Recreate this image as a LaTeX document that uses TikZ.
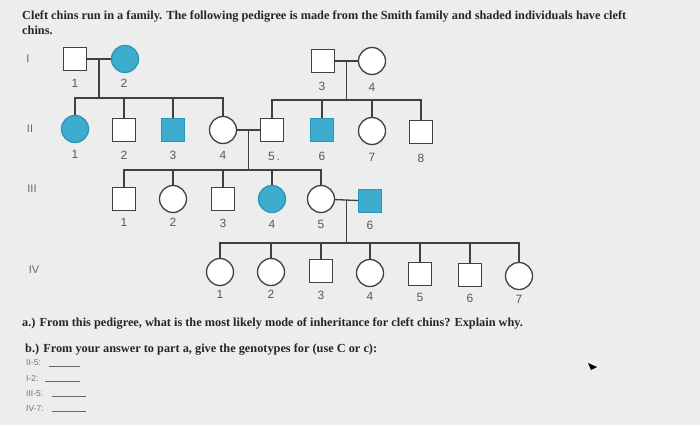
\documentclass[tikz,border=0pt]{standalone}
\usepackage{fontspec}
\setmainfont{Liberation Serif}
\newfontfamily\lab{Liberation Sans}
\definecolor{teal1}{RGB}{62,172,204}
\definecolor{teal2}{RGB}{40,150,185}
\begin{document}
\begin{tikzpicture}[x=1pt,y=-1pt,
  male/.style={draw=black!75,line width=1.3pt,minimum size=23pt,inner sep=0pt,fill=white},
  fem/.style={draw=black!75,line width=1.3pt,circle,minimum size=27pt,inner sep=0pt,fill=white},
  aff/.style={fill=teal1,draw=teal2},
  ln/.style={draw=black!75,line width=1.3pt},
  num/.style={font=\lab\fontsize{12}{12}\selectfont,text=black!65},
  gen/.style={font=\lab\fontsize{11}{11}\selectfont,text=black!60},
  txt/.style={font=\fontsize{12.3}{13}\selectfont,anchor=west,inner sep=0pt,text=black!85},
  small/.style={font=\lab\fontsize{8.5}{8.5}\selectfont,anchor=west,inner sep=0pt,text=black!55}]
\fill[black!7] (0,0) rectangle (700,425);
\useasboundingbox (0,0) rectangle (700,425);
\node[txt] (t1) at (22,17) {\textbf{Cleft chins run in a family. The following pedigree is made from the Smith family and shaded individuals have cleft}};
\node[txt] (t2) at (22,30) {\textbf{chins.}};
\node[gen] (g1) at (28,59) {I};
\node[gen] (g2) at (30,129) {II};
\node[gen] (g3) at (32,189) {III};
\node[gen] (g4) at (34,270) {IV};
% generation I
\node[male] (i1) at (75,59) {};
\node[fem,aff] (i2) at (125,59) {};
\node[male] (i3) at (323,61) {};
\node[fem] (i4) at (372,61) {};
% generation II
\node[fem,aff] (ii1) at (75,129) {};
\node[male] (ii2) at (124,130) {};
\node[male,aff] (ii3) at (173,130) {};
\node[fem] (ii4) at (223,130) {};
\node[male] (ii5) at (272,130) {};
\node[male,aff] (ii6) at (322,130) {};
\node[fem] (ii7) at (372,131) {};
\node[male] (ii8) at (421,132) {};
% generation III
\node[male] (iii1) at (124,199) {};
\node[fem] (iii2) at (173,199) {};
\node[male] (iii3) at (223,199) {};
\node[fem,aff] (iii4) at (272,199) {};
\node[fem] (iii5) at (321,199) {};
\node[male,aff] (iii6) at (370,201) {};
% generation IV
\node[fem] (iv1) at (220,272) {};
\node[fem] (iv2) at (271,272) {};
\node[male] (iv3) at (321,271) {};
\node[fem] (iv4) at (370,273) {};
\node[male] (iv5) at (420,274) {};
\node[male] (iv6) at (470,275) {};
\node[fem] (iv7) at (519,276) {};
% labels
\foreach \n/\t/\x/\y in {l1/1/75/83,l2/2/124/83,l3/3/322/86,l4/4/372/87,
  m1/1/75/154,m2/2/124/155,m3/3/173/155,m4/4/223/155,m5/{5\,.}/274/156,m6/6/322/156,m7/7/372/157,m8/8/421/158,
  n1/1/124/222,n2/2/173/222,n3/3/223/223,n4/4/272/224,n5/5/321/224,n6/6/370/225,
  o1/1/220/294,o2/2/271/294,o3/3/321/295,o4/4/370/296,o5/5/420/297,o6/6/470/298,o7/7/519/299}
  \node[num] (\n) at (\x,\y) {\t};
% matings
\draw[ln] (i1) -- (i2) coordinate[pos=.5] (ma);
\draw[ln] (i3) -- (i4) coordinate[pos=.5] (mb);
\draw[ln] (ii4) -- (ii5) coordinate[pos=.5] (mc);
\draw[ln] (iii5) -- (iii6) coordinate[pos=.5] (md);
% sibships
\draw[ln] (ma) -- ++(0,39) coordinate (sa);
\draw[ln] (ii1.north) |- (sa) -| (ii4.north);
\draw[ln] (ii2.north) -- (ii2.north |- sa);
\draw[ln] (ii3.north) -- (ii3.north |- sa);
\draw[ln] (mb) -- ++(0,39) coordinate (sb);
\draw[ln] (ii5.north) |- (sb) -| (ii8.north);
\draw[ln] (ii6.north) -- (ii6.north |- sb);
\draw[ln] (ii7.north) -- (ii7.north |- sb);
\draw[ln] (mc) -- ++(0,40) coordinate (sc);
\draw[ln] (iii1.north) |- (sc) -| (iii5.north);
\foreach \k in {iii2,iii3,iii4} \draw[ln] (\k.north) -- (\k.north |- sc);
\draw[ln] (md) -- ++(0,43) coordinate (sd);
\draw[ln] (iv1.north) |- (sd) -| (iv7.north);
\foreach \k in {iv2,iv3,iv4,iv5,iv6} \draw[ln] (\k.north) -- (\k.north |- sd);
% questions
\node[txt] (qa) at (22,324) {\textbf{a.) From this pedigree, what is the most likely mode of inheritance for cleft chins? Explain why.}};
\node[txt] (qb) at (25,350) {\textbf{b.) From your answer to part a, give the genotypes for (use C or c):}};
\node[small] (q1) at (26,363) {II-5:};
\node[small] (q2) at (26,379) {I-2:};
\node[small] (q3) at (26,394) {III-5:};
\node[small] (q4) at (26,409) {IV-7:};
\draw[black!60] (49,366) -- (80,366);
\draw[black!60] (45,381) -- (80,381);
\draw[black!60] (52,396) -- (86,396);
\draw[black!60] (52,411) -- (86,411);
\fill[black] (597,367) -- (588,363) -- (591,370) -- cycle;
\end{tikzpicture}
\end{document}
